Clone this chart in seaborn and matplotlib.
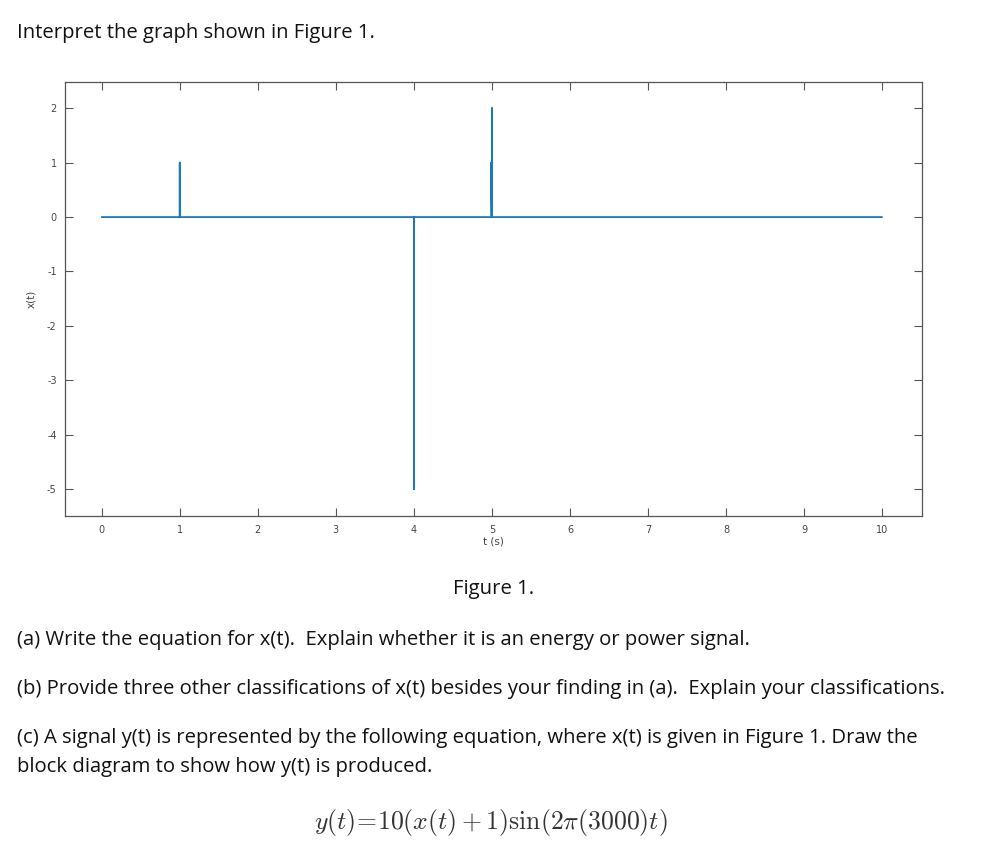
import matplotlib
matplotlib.use('Agg')
import matplotlib.pyplot as plt
import seaborn as sns
import pandas as pd

# signal samples (impulses at t=1, 4, 5)
t_vals = [0, 1, 1, 1, 4, 4, 4, 4.99, 4.99, 5, 5, 5, 10]
x_vals = [0, 0, 1, 0, 0, -5, 0, 0, 1, 0, 2, 0, 0]
x_ticks = list(range(0, 11))
y_ticks = [-5, -4, -3, -2, -1, 0, 1, 2]

sns.set_theme(style='white')
plt.rcParams['font.family'] = ['DejaVu Sans']
plt.rcParams['axes.unicode_minus'] = False
plt.rcParams['mathtext.fontset'] = 'cm'

fig = plt.figure(figsize=(10.01, 8.55), dpi=100)
ax = fig.add_axes([0.065, 0.396, 0.856, 0.508])

df = pd.DataFrame({'t': t_vals, 'x': x_vals})
sns.lineplot(data=df, x='t', y='x', sort=False, estimator=None, color='#1a78c2', linewidth=1.3, ax=ax)

ax.set_xlim(-0.47, 10.51)
ax.set_ylim(-5.5, 2.48)
ax.set_xticks(x_ticks)
ax.set_yticks(y_ticks)
ax.tick_params(direction='in', length=6, width=0.8, color='#555555', labelsize=7, labelcolor='#444444',
               top=True, right=True, bottom=True, left=True, pad=6)
for s in ax.spines.values():
    s.set_color('#555555')
    s.set_linewidth(0.9)
ax.set_xlabel('t (s)', fontsize=7.5, color='#444444', labelpad=1)
ax.set_ylabel('x(t)', fontsize=7.5, color='#444444', labelpad=8)

body = dict(fontsize=14.6, family=['Open Sans', 'DejaVu Sans'], color='#111111')
fig.text(17/1001, 1-33/855, 'Interpret the graph shown in Figure 1.', va='center', ha='left', **body)
fig.text(494/1001, 1-589/855, 'Figure 1.', va='center', ha='center', **body)
fig.text(17/1001, 1-640/855, '(a) Write the equation for x(t).  Explain whether it is an energy or power signal.', va='center', **body)
fig.text(17/1001, 1-689/855, '(b) Provide three other classifications of x(t) besides your finding in (a).  Explain your classifications.', va='center', **body)
fig.text(17/1001, 1-738/855, '(c) A signal y(t) is represented by the following equation, where x(t) is given in Figure 1. Draw the', va='center', **body)
fig.text(17/1001, 1-767/855, 'block diagram to show how y(t) is produced.', va='center', **body)
fig.text(491/1001, 1-822/855, r'$y(t)\!=\!10(x(t)+1)\sin(2\pi(3000)t)$', va='center', ha='center', fontsize=18.5, color='#333333')

fig.savefig('out.png', dpi=100)
